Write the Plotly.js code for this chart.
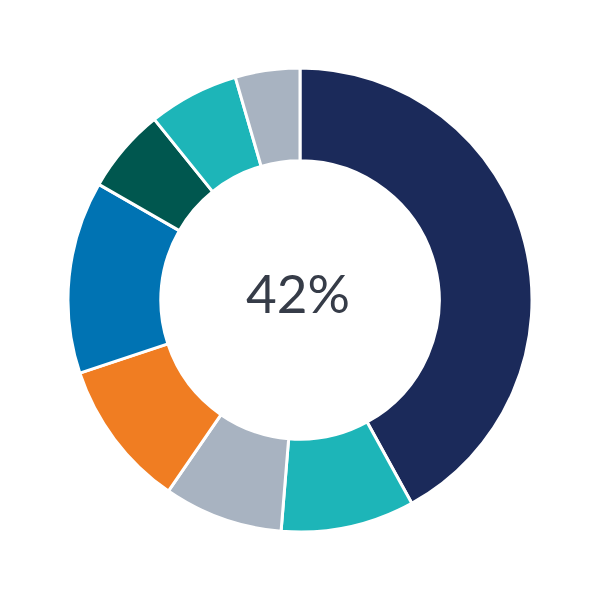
<!DOCTYPE html>
<html>
<head>
<meta charset="utf-8">
<script src="https://cdn.plot.ly/plotly-3.0.1.min.js"></script>
<style>
  html, body { margin: 0; padding: 0; background: #fff; }
  #chart { width: 600px; height: 600px; }
</style>
</head>
<body>
<div id="chart"></div>
<script>
// slice values, clockwise from 12 o'clock
const labels = ['A', 'B', 'C', 'D', 'E', 'F', 'G', 'H'];
const values = [42, 9.3, 8.3, 10.3, 13.4, 5.9, 6.3, 4.5];
const colors = ['#1b2a5a', '#1db5b8', '#a8b3c1', '#f07d22', '#0073b3', '#00574f', '#1db5b8', '#a8b3c1'];
const centerLabel = '42%';

const data = [{
    type: 'pie',
    labels: labels,
    values: values,
    sort: false,
    direction: 'clockwise',
    rotation: 0,
    hole: 0.6,
    textinfo: 'none',
    hoverinfo: 'none',
    marker: {colors: colors, line: {color: '#ffffff', width: 3}},
    domain: {x: [0.1133, 0.8867], y: [0.1133, 0.8867]}
}];

const layout = {
    width: 600,
    height: 600,
    margin: {l: 0, r: 0, t: 0, b: 0},
    showlegend: false,
    paper_bgcolor: '#ffffff',
    annotations: [{
        text: centerLabel,
        x: 0.497, y: 0.512, xref: 'paper', yref: 'paper',
        showarrow: false,
        font: {family: 'Lato, sans-serif', size: 53, color: '#363c48'}
    }]
};

Plotly.newPlot('chart', data, layout, {displayModeBar: false, staticPlot: true});
</script>
</body>
</html>
